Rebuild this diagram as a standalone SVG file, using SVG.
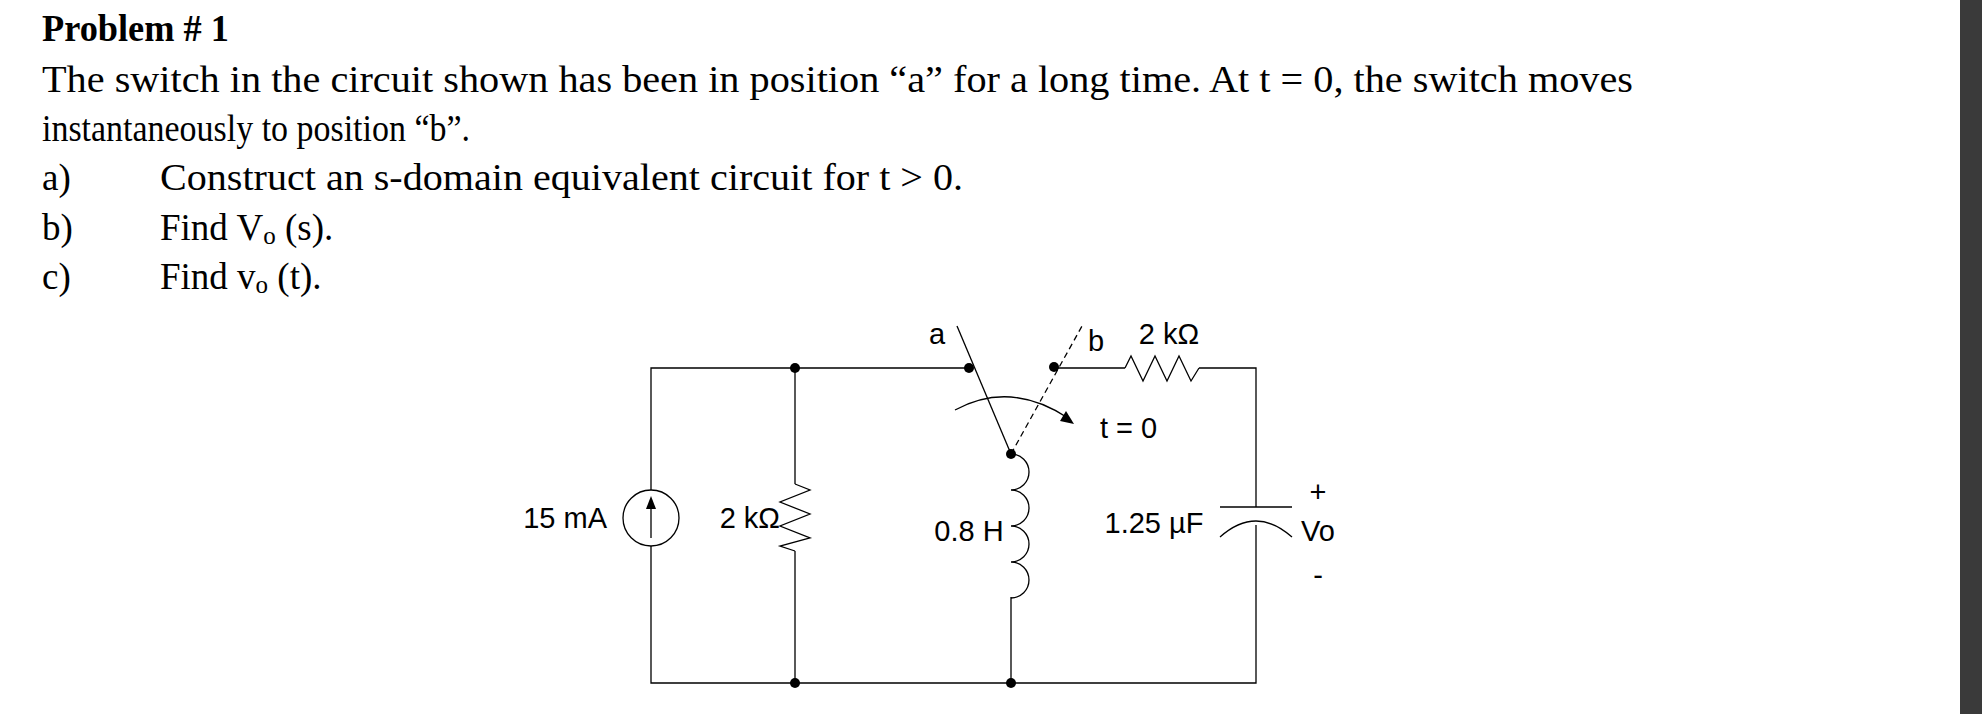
<svg xmlns="http://www.w3.org/2000/svg" width="1982" height="714" viewBox="0 0 1982 714">
<style>
.t{font-family:"Liberation Serif",serif;font-size:37px;fill:#000}
.c{font-family:"Liberation Sans",Arial,sans-serif;font-size:29px;fill:#000}
.w{fill:none;stroke:#000;stroke-width:1.3}
.d{fill:#000}
</style>
<rect width="1982" height="714" fill="#fff"/>
<rect x="1960" y="0" width="22" height="714" fill="#3a3a3a"/>
<g id="text">
<text class="t" x="42" y="41" font-weight="bold" textLength="187" lengthAdjust="spacingAndGlyphs">Problem # 1</text>
<text class="t" x="42" y="92" textLength="1591" lengthAdjust="spacingAndGlyphs">The switch in the circuit shown has been in position “a” for a long time.  At t = 0, the switch moves</text>
<text class="t" x="42" y="141" textLength="428" lengthAdjust="spacingAndGlyphs">instantaneously to position “b”.</text>
<text class="t" x="42" y="190">a)</text><text class="t" x="160" y="190" textLength="803" lengthAdjust="spacingAndGlyphs">Construct an s-domain equivalent circuit for t &gt; 0.</text>
<text class="t" x="42" y="240">b)</text><text class="t" x="160" y="240">Find V<tspan font-size="25" dy="4">o</tspan><tspan dy="-4"> (s).</tspan></text>
<text class="t" x="42" y="289">c)</text><text class="t" x="160" y="289">Find v<tspan font-size="25" dy="4">o</tspan><tspan dy="-4"> (t).</tspan></text>
</g>
<g id="connectors">
<path class="w" d="M969 368 H651 V490 M651 546 V683 H1256 V525 M1256 507 V368 H1199 M1125 368 H1054"/>
<path class="w" d="M795 368 V484 M795 551 V683 M1011 597 V683"/>
</g>
<g id="source">
<circle class="w" cx="651" cy="518" r="28"/>
<path class="w" d="M651 538 V504"/>
<path class="d" d="M651 496 L646 509 L656 509 Z"/>
<text class="c" x="607" y="528" text-anchor="end">15 mA</text>
</g>
<g id="r1">
<path class="w" d="M795 484 L810 490 L780 502 L810 514 L780 526 L810 538 L780 546 L795 551"/>
<text class="c" x="780" y="528" text-anchor="end">2 kΩ</text>
</g>
<g id="switch">
<path class="w" d="M1011 454 L957 326"/>
<path class="w" d="M1011 454 L1082 326" stroke-dasharray="6,4"/>
<path class="w" d="M955 410 Q1010 380 1068 418"/>
<path class="d" d="M1074 424 L1060 421 L1066 411 Z"/>
<circle class="d" cx="969" cy="368" r="5"/>
<circle class="d" cx="1054" cy="367" r="5"/>
<circle class="d" cx="1011" cy="454" r="5"/>
<text class="c" x="937" y="344" text-anchor="middle" font-size="21">a</text>
<text class="c" x="1096" y="351" text-anchor="middle" font-size="21">b</text>
<text class="c" x="1100" y="438" font-size="20">t = 0</text>
</g>
<g id="inductor">
<path class="w" d="M1011 454 a18 18 0 0 1 0 36 a18 18 0 0 1 0 36 a18 18 0 0 1 0 36 a18 18 0 0 1 0 36"/>
<text class="c" x="969" y="541" text-anchor="middle">0.8 H</text>
</g>
<g id="r2">
<path class="w" d="M1125 368 L1131 356 L1143 381 L1155 356 L1167 381 L1179 356 L1191 381 L1199 368"/>
<text class="c" x="1169" y="344" text-anchor="middle">2 kΩ</text>
</g>
<g id="cap">
<path class="w" d="M1220 507 H1292"/>
<path class="w" d="M1220 537 Q1256 505 1292 537"/>
<text class="c" x="1154" y="533" text-anchor="middle">1.25 µF</text>
<text class="c" x="1318" y="502" text-anchor="middle" font-size="26">+</text>
<text class="c" x="1318" y="541" text-anchor="middle">Vo</text>
<text class="c" x="1318" y="585" text-anchor="middle" font-size="24">-</text>
</g>
<g id="nodes">
<circle class="d" cx="795" cy="368" r="5"/>
<circle class="d" cx="795" cy="683" r="5"/>
<circle class="d" cx="1011" cy="683" r="5"/>
</g>
</svg>
